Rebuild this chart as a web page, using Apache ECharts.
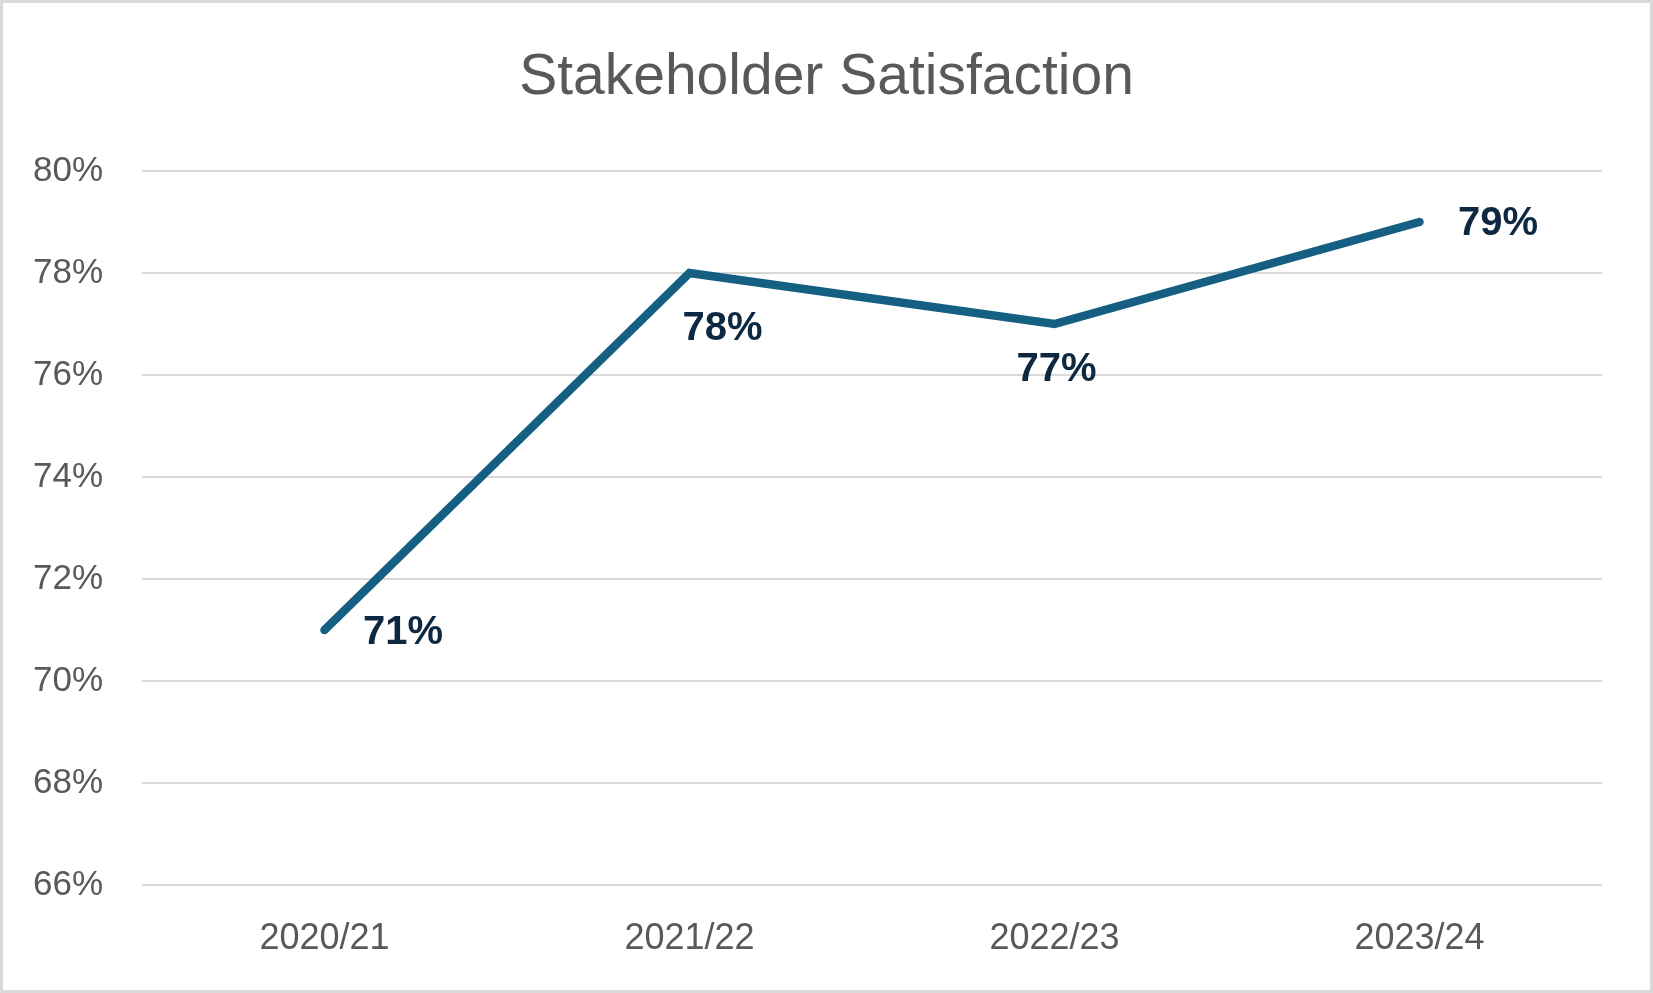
<!DOCTYPE html>
<html>
<head>
<meta charset="utf-8">
<script src="https://cdn.jsdelivr.net/npm/echarts@6/dist/echarts.min.js"></script>
<style>
html,body{margin:0;padding:0;background:#fff;}
#chart{width:1653px;height:993px;}
</style>
</head>
<body>
<div id="chart"></div>
<script>
const titleText = 'Stakeholder Satisfaction';
const categories = ['2020/21', '2021/22', '2022/23', '2023/24'];
const satisfaction = [71, 78, 77, 79];
const yMin = 66, yMax = 80, yStep = 2;

const labelCfg = [
  { position: 'right', distance: 38, offset: [0, 3] },
  { position: 'bottom', distance: 35, offset: [33, 0] },
  { position: 'bottom', distance: 25, offset: [2, 0] },
  { position: 'right', distance: 38, offset: [0, 2] }
];

const chart = echarts.init(document.getElementById('chart'));
chart.setOption({
  backgroundColor: '#ffffff',
  animation: false,
  graphic: [{
    type: 'rect', silent: true,
    shape: { x: 1.5, y: 1.5, width: 1650, height: 990 },
    style: { fill: 'none', stroke: '#d9d9d9', lineWidth: 3 }
  }],
  title: {
    text: titleText,
    left: 'center',
    top: 45,
    textStyle: { fontFamily: 'Liberation Sans', fontSize: 57, fontWeight: 'normal', color: '#595959' }
  },
  grid: { left: 142, right: 51, top: 171, bottom: 108, containLabel: false },
  xAxis: {
    type: 'category',
    data: categories,
    boundaryGap: true,
    axisLine: { show: false },
    axisTick: { show: false },
    axisLabel: { fontFamily: 'Liberation Sans', fontSize: 36, color: '#595959', margin: 36 }
  },
  yAxis: {
    type: 'value',
    min: yMin, max: yMax, interval: yStep,
    axisLine: { show: false },
    axisTick: { show: false },
    splitLine: { lineStyle: { color: '#d9d9d9', width: 2 } },
    axisLabel: { fontFamily: 'Liberation Sans', fontSize: 35, color: '#595959', margin: 39, formatter: v => v + '%' }
  },
  series: [{
    type: 'line',
    data: satisfaction.map((v, i) => ({
      value: v,
      label: labelCfg[i]
    })),
    symbol: 'circle',
    symbolSize: 1,
    showSymbol: true,
    itemStyle: { color: 'rgba(0,0,0,0)' },
    lineStyle: { color: '#156082', width: 8.5, cap: 'round', join: 'miter' },
    label: {
      show: true,
      formatter: p => p.value + '%',
      fontFamily: 'Liberation Sans',
      fontSize: 40,
      fontWeight: 'bold',
      color: '#0e2841'
    }
  }]
});
</script>
</body>
</html>
